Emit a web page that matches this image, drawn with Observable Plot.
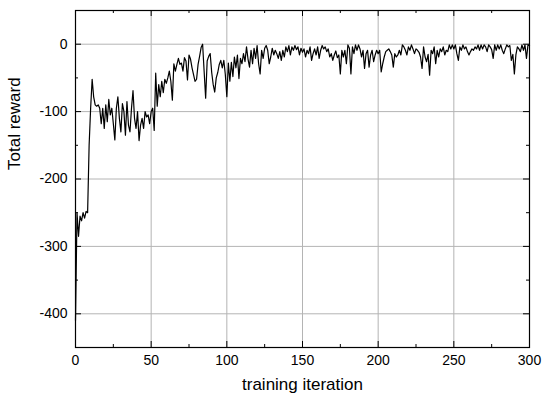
<!DOCTYPE html>
<html>
<head>
<meta charset="utf-8">
<script src="https://cdn.jsdelivr.net/npm/d3@7"></script>
<script src="https://cdn.jsdelivr.net/npm/@observablehq/plot@0.6"></script>
<style>
  html, body { margin: 0; padding: 0; background: #fff; }
  #chart svg { display: block; font-family: "Liberation Sans", Arial, sans-serif; }
</style>
</head>
<body>
<div id="chart"></div>
<script>
// Total reward per training iteration
const reward = [
  -410, -250, -285, -255, -262, -250, -258, -248, -250, -150,
  -95, -52, -78, -90, -92, -90, -95, -118, -95, -125,
  -90, -115, -82, -105, -95, -118, -142, -95, -78, -110,
  -130, -88, -100, -135, -85, -120, -130, -95, -69, -110,
  -125, -100, -143, -120, -110, -125, -100, -108, -105, -118,
  -100, -95, -128, -43, -92, -60, -78, -55, -72, -52,
  -58, -50, -40, -55, -83, -29, -40, -30, -21, -30,
  -28, -40, -20, -25, -53, -16, -22, -35, -45, -55,
  -52, -30, -18, -5, 0, -40, -80, -25, -18, -14,
  -42, -60, -71, -50, -42, -30, -24, -35, -24, -45,
  -78, -28, -55, -27, -48, -19, -35, -16, -51, -21,
  -29, -14, -26, -4, -22, -34, -9, -29, -6, -21,
  -2, -29, -44, -9, -21, -6, -2, -9, -29, -19,
  -6, -16, -9, -14, -21, -11, -24, -9, -19, -4,
  -11, -2, -16, -4, -9, -2, -8, -4, -16, -6,
  -12, -7, -19, -9, -14, -4, -24, -14, -7, -16,
  -4, -21, -9, -2, -7, -4, -11, -7, -19, -14,
  -24, -16, -10, -20, -16, -44, -9, -19, -9, -29,
  -1, -6, -44, -4, -14, -1, -9, -1, -7, -19,
  -9, -36, -14, -9, -34, -16, -9, -26, -16, -9,
  -14, -9, -41, -29, -19, -11, -9, -7, -11, -16,
  -34, -14, -19, -16, -9, -16, -1, -4, -9, -16,
  -4, -9, -1, -7, -14, -7, -9, -12, -19, -36,
  -4, -19, -26, -15, -46, -9, -14, -4, -29, -9,
  -19, -7, -11, -4, -16, -9, -11, -1, -7, -1,
  -7, -1, -14, -24, -4, -9, -1, -7, -4, -11,
  -16, -11, -7, -9, -4, -7, -1, -9, -1, -7,
  -1, -4, -11, -1, -4, -8, -21, -1, -9, -1,
  -7, -1, -9, -14, -7, -1, -4, -2, -24, -15,
  -44, -16, -4, -7, -11, -1, -9, -1, -21, -1,
  -2
];
const iteration = reward.map((_, i) => i);

const xMajor = [0, 50, 100, 150, 200, 250, 300];
const xMinor = [25, 75, 125, 175, 225, 275];
const yMajor = [-400, -300, -200, -100, 0];
const yMinor = [-350, -250, -150, -50];
const xTitle = "training iteration";
const yTitle = "Total reward";

const data = iteration.map((x, i) => ({x, y: reward[i]}));

const W = 550, H = 402;
const mL = 75, mR = 21, mT = 10, mB = 55;
const pw = W - mL - mR, ph = H - mT - mB;

const chart = Plot.plot({
  width: W,
  height: H,
  marginLeft: mL,
  marginRight: mR,
  marginTop: mT,
  marginBottom: mB,
  style: {fontFamily: '"Liberation Sans", Arial, sans-serif', fontSize: "14px", color: "#000", background: "#fff"},
  x: {domain: [0, 300]},
  y: {domain: [-450, 50]},
  marks: [
    Plot.gridX(xMajor.slice(1, -1), {stroke: "#b4b4b4", strokeOpacity: 1, strokeWidth: 1}),
    Plot.gridY(yMajor, {stroke: "#b4b4b4", strokeOpacity: 1, strokeWidth: 1}),
    // inward ticks: bottom & top
    Plot.ruleX(xMajor, {x: d => d, insetTop: ph - 6, stroke: "#000"}),
    Plot.ruleX(xMajor, {x: d => d, insetBottom: ph - 6, stroke: "#000"}),
    Plot.ruleX(xMinor, {x: d => d, insetTop: ph - 3, stroke: "#000"}),
    Plot.ruleX(xMinor, {x: d => d, insetBottom: ph - 3, stroke: "#000"}),
    // inward ticks: left & right
    Plot.ruleY(yMajor, {y: d => d, insetRight: pw - 6, stroke: "#000"}),
    Plot.ruleY(yMajor, {y: d => d, insetLeft: pw - 6, stroke: "#000"}),
    Plot.ruleY(yMinor, {y: d => d, insetRight: pw - 3, stroke: "#000"}),
    Plot.ruleY(yMinor, {y: d => d, insetLeft: pw - 3, stroke: "#000"}),
    Plot.axisX(xMajor, {tickSize: 0, tickPadding: 8, fontSize: 14, label: null, tickFormat: d => String(d)}),
    Plot.axisY(yMajor, {tickSize: 0, tickPadding: 8, fontSize: 14, label: null, tickFormat: d => String(d)}),
    Plot.line(data, {x: "x", y: "y", stroke: "#000", strokeWidth: 1.2}),
    Plot.frame({stroke: "#000", strokeWidth: 1.2}),
    Plot.text([xTitle], {frameAnchor: "bottom", dy: 37, fontSize: 17, lineAnchor: "middle", fill: "#000"}),
    Plot.text([yTitle], {frameAnchor: "left", dx: -61, dy: -9, rotate: -90, fontSize: 17, lineAnchor: "middle", fill: "#000"})
  ]
});
document.getElementById("chart").appendChild(chart);
</script>
</body>
</html>
